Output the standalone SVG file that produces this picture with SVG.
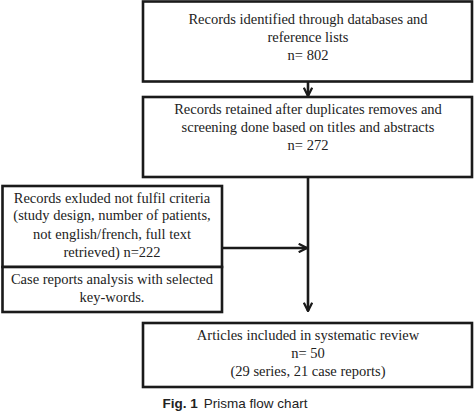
<svg xmlns="http://www.w3.org/2000/svg" width="474" height="412" viewBox="0 0 474 412">
<defs>
<style>
.box{fill:#fff;stroke:#1a1a1a;stroke-width:2.6}
.t{font-family:"Liberation Serif","Times New Roman",serif;font-size:14.5px;fill:#222;text-anchor:middle}
.ln{stroke:#1a1a1a;stroke-width:2.6;fill:none}
.cap{font-family:"Liberation Sans",Arial,sans-serif;font-size:13.5px;fill:#222;text-anchor:middle}
</style>
<marker id="ah" viewBox="0 0 10 10" refX="9" refY="5" markerWidth="4" markerHeight="4" orient="auto" markerUnits="strokeWidth">
<path d="M1,1 L9,5 L1,9" fill="none" stroke="#1a1a1a" stroke-width="2.2"/>
</marker>
</defs>
<rect width="474" height="412" fill="#fff"/>
<g id="connectors">
<line class="ln" x1="308" y1="82" x2="308" y2="96" marker-end="url(#ah)"/>
<line class="ln" x1="308" y1="177" x2="308" y2="311" marker-end="url(#ah)"/>
<line class="ln" x1="222" y1="248" x2="307" y2="248" marker-end="url(#ah)"/>
</g>
<g id="n1">
<rect class="box" x="143" y="1.5" width="329" height="80"/>
<text class="t" x="308" y="24">Records identified through databases and</text>
<text class="t" x="308" y="42">reference lists</text>
<text class="t" x="308" y="60">n= 802</text>
</g>
<g id="n2">
<rect class="box" x="143" y="97" width="329" height="80"/>
<text class="t" x="308" y="114">Records retained after duplicates removes and</text>
<text class="t" x="308" y="132">screening done based on titles and abstracts</text>
<text class="t" x="308" y="150">n= 272</text>
</g>
<g id="n3">
<rect class="box" x="2.5" y="186" width="219.5" height="81"/>
<text class="t" x="112" y="203">Records exluded not fulfil criteria</text>
<text class="t" x="112" y="220">(study design, number of patients,</text>
<text class="t" x="112" y="239">not english/french, full text</text>
<text class="t" x="112" y="257">retrieved) n=222</text>
</g>
<g id="n4">
<rect class="box" x="2.5" y="267" width="219.5" height="45"/>
<text class="t" x="112" y="284">Case reports analysis with selected</text>
<text class="t" x="112" y="302">key-words.</text>
</g>
<g id="n5">
<rect class="box" x="143" y="323" width="329" height="64"/>
<text class="t" x="308" y="340">Articles included in systematic review</text>
<text class="t" x="308" y="358">n= 50</text>
<text class="t" x="308" y="376">(29 series, 21 case reports)</text>
</g>
<text class="cap" x="235" y="408"><tspan font-weight="bold">Fig. 1</tspan><tspan dx="6">Prisma flow chart</tspan></text>
</svg>
